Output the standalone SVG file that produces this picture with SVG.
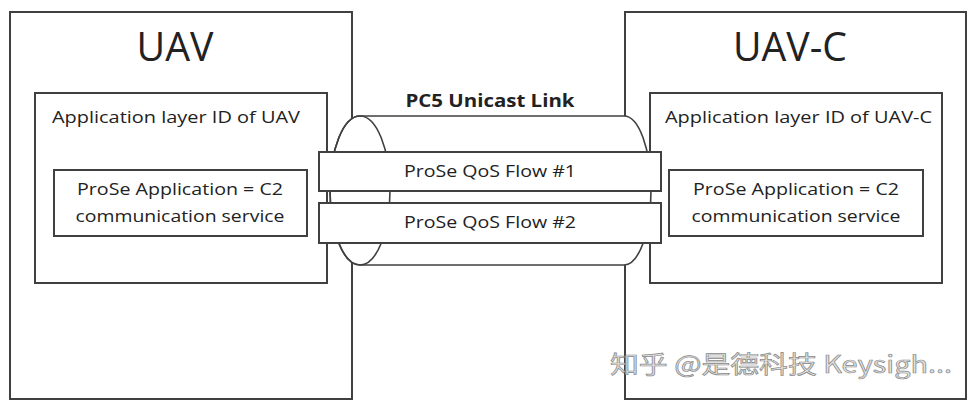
<svg xmlns="http://www.w3.org/2000/svg" width="977" height="408" viewBox="0 0 977 408">
<style>
  .box { fill: #ffffff; stroke: #404040; stroke-width: 2; }
  .ln { fill: none; stroke: #404040; stroke-width: 1.6; }
  .t { font-family: "Open Sans", "Liberation Sans", sans-serif; fill: #222; }
  .title { font-size: 40px; text-anchor: middle; }
  .lbl { font-size: 17px; }
  .mid { text-anchor: middle; }
  .bold { font-weight: bold; font-size: 18px; }
  .wm { font-family: "Noto Sans CJK SC", "Noto Sans", sans-serif; font-size: 24px; fill: #e2e2e2; stroke: #8a8a8a; stroke-width: 0.7; }
</style>
<rect width="977" height="408" fill="#ffffff"/>

<g id="uav">
  <rect class="box" x="10" y="12" width="342" height="387"/>
  <text class="t title" x="175" y="61" textLength="77" lengthAdjust="spacingAndGlyphs">UAV</text>
  <g id="uav-app">
    <rect class="box" x="35" y="93" width="292" height="190"/>
    <text class="t lbl" x="52" y="123" textLength="248" lengthAdjust="spacingAndGlyphs">Application layer ID of UAV</text>
  </g>
  <g id="uav-prose">
    <rect class="box" x="54" y="170" width="253" height="66"/>
    <text class="t lbl mid" x="180" y="195" textLength="206" lengthAdjust="spacingAndGlyphs">ProSe Application = C2</text>
    <text class="t lbl mid" x="180" y="222" textLength="209" lengthAdjust="spacingAndGlyphs">communication service</text>
  </g>
</g>

<g id="uav-c">
  <rect class="box" x="625" y="12" width="341" height="387"/>
  <text class="t title" x="790" y="61" textLength="114" lengthAdjust="spacingAndGlyphs">UAV-C</text>
  <g id="uavc-app">
    <rect class="box" x="650" y="93" width="292" height="190"/>
    <text class="t lbl" x="665" y="123" textLength="267" lengthAdjust="spacingAndGlyphs">Application layer ID of UAV-C</text>
  </g>
  <g id="uavc-prose">
    <rect class="box" x="669" y="170" width="254" height="66"/>
    <text class="t lbl mid" x="796" y="195" textLength="206" lengthAdjust="spacingAndGlyphs">ProSe Application = C2</text>
    <text class="t lbl mid" x="796" y="222" textLength="209" lengthAdjust="spacingAndGlyphs">communication service</text>
  </g>
</g>

<g id="connectors">
  <g id="pc5-link">
    <path d="M360,116 L624,116 A27,74.5 0 0 1 624,265 L360,265 A30,74.5 0 0 1 360,116 Z" fill="#ffffff" stroke="#404040" stroke-width="1.6"/>
    <ellipse class="ln" cx="360" cy="190.5" rx="30" ry="74.5"/>
    <text class="t bold mid" x="490" y="107" textLength="169" lengthAdjust="spacingAndGlyphs">PC5 Unicast Link</text>
  </g>
  <g id="flow1">
    <rect class="box" x="319" y="152" width="342" height="39"/>
    <text class="t lbl mid" x="490" y="177" textLength="172" lengthAdjust="spacingAndGlyphs">ProSe QoS Flow #1</text>
  </g>
  <g id="flow2">
    <rect class="box" x="319" y="203" width="342" height="40"/>
    <text class="t lbl mid" x="490" y="228" textLength="172" lengthAdjust="spacingAndGlyphs">ProSe QoS Flow #2</text>
  </g>
</g>

<text class="wm" x="610" y="373" textLength="342" lengthAdjust="spacingAndGlyphs">知乎 @是德科技 Keysigh...</text>
</svg>
